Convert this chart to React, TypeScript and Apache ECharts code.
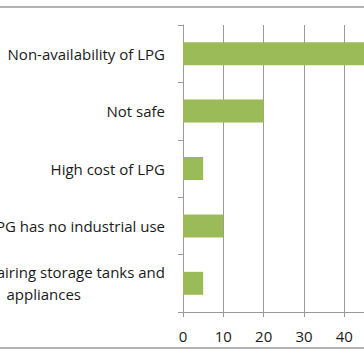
import React, { useEffect, useRef } from "react";
import * as echarts from "echarts";

const categories = [
  "Non-availability of LPG",
  "Not safe",
  "High cost of LPG",
  "LPG has no industrial use",
  "Difficulty in repairing storage tanks and\nappliances",
];
const values = [55, 20, 5, 10, 5];
const xTicks = { min: 0, max: 60, interval: 10 };
const FONT = "Open Sans";
const FS = 15;

export default function App() {
  const ref = useRef<HTMLDivElement>(null);
  useEffect(() => {
    const chart = echarts.init(ref.current!, null, { renderer: "svg" });
    chart.setOption({
      animation: false,
      backgroundColor: "#ffffff",
      textStyle: { fontFamily: FONT },
      grid: { left: 183, top: 25, bottom: 52, right: -61, containLabel: false, outerBoundsMode: "none" },
      xAxis: {
        type: "value",
        min: xTicks.min,
        max: xTicks.max,
        interval: xTicks.interval,
        axisLine: { show: true, lineStyle: { color: "#9a9a9a", width: 1 } },
        axisTick: { show: true, length: 5, lineStyle: { color: "#9a9a9a" } },
        splitLine: { show: true, lineStyle: { color: "#9a9a9a", width: 1 } },
        axisLabel: {
          fontSize: FS,
          color: "#1a1a1a",
          margin: 16,
          fontFamily: FONT,
          formatter: (v: number) => (v <= 40 ? String(v) : ""),
        },
      },
      yAxis: {
        type: "category",
        inverse: true,
        data: categories,
        axisLine: { show: true, lineStyle: { color: "#9a9a9a", width: 1 } },
        axisTick: { show: true, length: 5, lineStyle: { color: "#9a9a9a" } },
        axisLabel: {
          fontSize: FS,
          color: "#1a1a1a",
          margin: 18,
          fontFamily: FONT,
          lineHeight: 22,
          formatter: (v: string) => {
            if (v.includes("\n")) {
              const [a, b] = v.split("\n");
              return `{a|${a}}\n{b|${b}}`;
            }
            return v;
          },
          rich: {
            a: { fontSize: FS, color: "#1a1a1a", fontFamily: FONT, lineHeight: 22 },
            b: { fontSize: FS, color: "#1a1a1a", fontFamily: FONT, lineHeight: 22, padding: [0, 84, 0, 0] },
          },
        },
      },
      series: [
        {
          type: "bar",
          data: values,
          barCategoryGap: "60%",
          itemStyle: { color: "#9bbb59" },
        },
      ],
      graphic: [
        { type: "line", shape: { x1: 0, y1: 7, x2: 364, y2: 7 }, style: { stroke: "#9a9a9a", lineWidth: 1.5 } },
        { type: "line", shape: { x1: 0, y1: 348, x2: 364, y2: 348 }, style: { stroke: "#9a9a9a", lineWidth: 1.5 } },
      ],
    });
    return () => chart.dispose();
  }, []);
  return (
    <div
      ref={ref}
      style={{ position: "fixed", left: 0, top: 0, width: 364, height: 364 }}
    />
  );
}
